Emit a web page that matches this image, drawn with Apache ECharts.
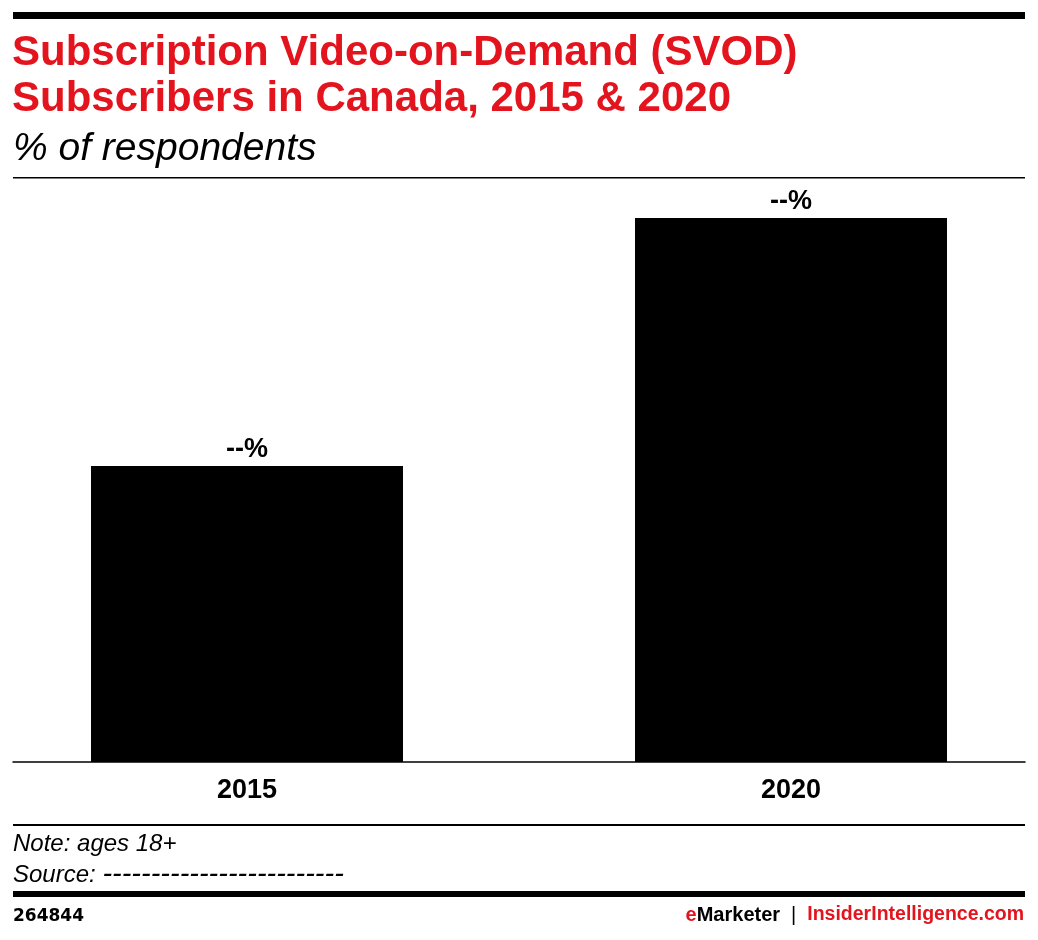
<!DOCTYPE html>
<html>
<head>
<meta charset="utf-8">
<script src="https://cdn.jsdelivr.net/npm/echarts@6/dist/echarts.min.js"></script>
<style>
html,body{margin:0;padding:0;background:#fff;}
#chart{width:1038px;height:940px;}
</style>
</head>
<body>
<div id="chart"></div>
<script>
const categories = ['2015', '2020'];
const values = [29.6, 54.4];
const valueLabels = ['--%', '--%'];
const titleLines = ['Subscription Video-on-Demand (SVOD)', 'Subscribers in Canada, 2015 & 2020'];
const subtitle = '% of respondents';
const noteText = 'Note: ages 18+';
const sourceLabel = 'Source: ';
const sourceDashes = '-------------------------';
const chartId = '264844';

const RED = '#e3141d';
const FONT = 'Liberation Sans';

const years = categories.map(Number);
const seriesData = years.map((y, i) => [y, values[i]]);

const chart = echarts.init(document.getElementById('chart'), null, {renderer: 'canvas'});
chart.setOption({
  backgroundColor: '#fff',
  animation: false,
  grid: {left: 13, right: 13, top: 178, bottom: 178, containLabel: false},
  xAxis: {
    type: 'value',
    min: 2012.8493, max: 2022.1507,
    splitLine: {show: false},
    axisLine: {show: true, onZero: false, lineStyle: {color: '#000', width: 1.5}},
    axisTick: {show: false},
    axisLabel: {
      customValues: years,
      formatter: v => String(v),
      color: '#000', fontFamily: FONT, fontWeight: 'bold', fontSize: 27, margin: 15
    }
  },
  yAxis: {
    type: 'value', min: 0, max: 58.4,
    show: false, splitLine: {show: false}
  },
  series: [{
    type: 'bar',
    data: seriesData,
    barWidth: 312,
    itemStyle: {color: '#000'},
    label: {
      show: true, position: 'top', distance: 3,
      color: '#000', fontFamily: FONT, fontWeight: 'bold', fontSize: 27,
      formatter: p => valueLabels[p.dataIndex]
    }
  }],
  graphic: [
    {type: 'rect', shape: {x: 13, y: 12, width: 1012, height: 7}, style: {fill: '#000'}},
    {type: 'text', left: 12, top: 32, style: {text: titleLines[0], fill: RED, font: 'bold 42px "' + FONT + '"'}},
    {type: 'text', left: 12, top: 78, style: {text: titleLines[1], fill: RED, font: 'bold 42px "' + FONT + '"'}},
    {type: 'text', left: 13, top: 130, style: {text: subtitle, fill: '#000', font: 'italic 39px "' + FONT + '"'}},
    {type: 'rect', shape: {x: 13, y: 177, width: 1012, height: 1.5}, style: {fill: '#000'}},
    {type: 'rect', shape: {x: 13, y: 824, width: 1012, height: 2}, style: {fill: '#000'}},
    {type: 'text', left: 13, top: 832, style: {text: noteText, fill: '#000', font: 'italic 24px "' + FONT + '"'}},
    {type: 'text', left: 13, top: 860, style: {
      rich: {
        a: {fill: '#000', font: 'italic 24px "' + FONT + '"'},
        d: {fill: '#000', font: 'italic 29px "' + FONT + '"', padding: [0, 0, 2, 0]}
      },
      text: '{a|' + sourceLabel + '}{d|' + sourceDashes + '}'
    }},
    {type: 'rect', shape: {x: 13, y: 891, width: 1012, height: 6}, style: {fill: '#000'}},
    {type: 'text', left: 13, top: 908, style: {text: chartId, fill: '#000', font: 'bold 17px "DejaVu Sans"'}},
    {type: 'text', right: 14, top: 905, style: {
      rich: {
        r: {fill: RED, font: 'bold 20px "' + FONT + '"'},
        k: {fill: '#000', font: 'bold 20px "' + FONT + '"'},
        s: {fill: '#000', font: '20px "' + FONT + '"', padding: [0, 11, 0, 11]},
        i: {fill: RED, font: 'bold 19.5px "' + FONT + '"'}
      },
      text: '{r|e}{k|Marketer}{s||}{i|InsiderIntelligence.com}'
    }}
  ]
});
</script>
</body>
</html>
